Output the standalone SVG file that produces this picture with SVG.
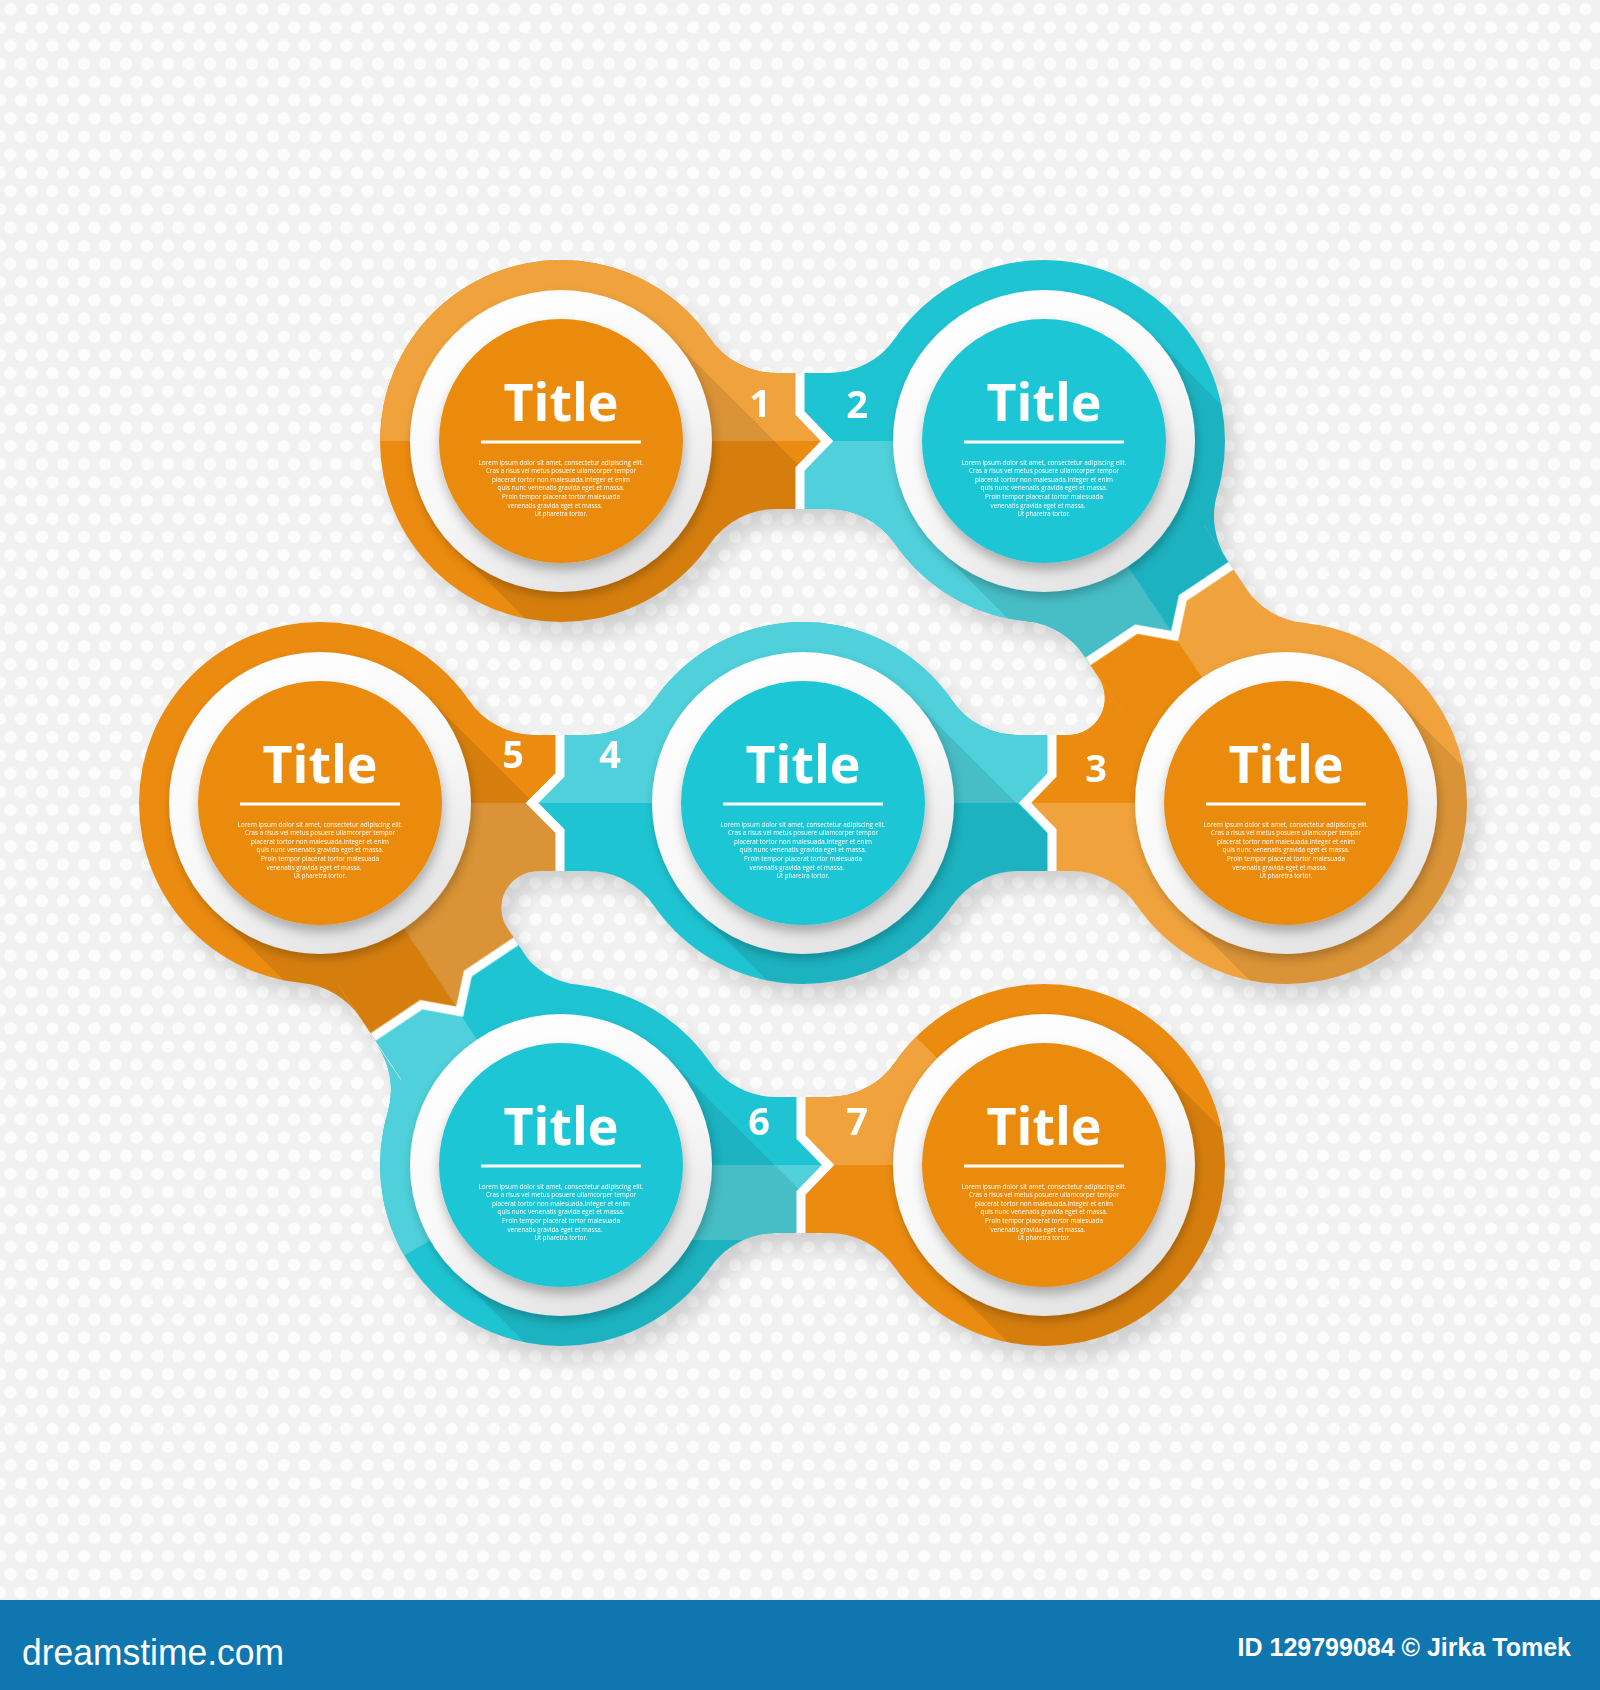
<svg xmlns="http://www.w3.org/2000/svg" width="1600" height="1690" viewBox="0 0 1600 1690">
<defs>
<style>
.ttl{font-family:"Open Sans","Liberation Sans",sans-serif;font-weight:700;font-size:52px;fill:#fff;text-anchor:middle}
.num{font-family:"Open Sans","Liberation Sans",sans-serif;font-weight:700;font-size:38px;fill:#fff;text-anchor:middle}
.lor{font-family:"Open Sans","Liberation Sans",sans-serif;font-size:7px;fill:#fff;text-anchor:middle}
.gap{fill:none;stroke:#fff;stroke-width:9;stroke-linejoin:miter}
.ring{fill:url(#ringG);filter:url(#ringSh)}
.ls{fill:#000;fill-opacity:.09}
.ul{fill:#fff}
</style>
<pattern id="dots" width="21" height="36.4" patternUnits="userSpaceOnUse">
<rect width="21" height="36.4" fill="#F1F1F1"/>
<circle cx="10.5" cy="9.1" r="6.2" fill="#FCFCFC"/>
<circle cx="0" cy="27.3" r="6.2" fill="#FCFCFC"/>
<circle cx="21" cy="27.3" r="6.2" fill="#FCFCFC"/>
</pattern>
<linearGradient id="ringG" x1="0.2" y1="0" x2="0.7" y2="1">
<stop offset="0" stop-color="#FFFFFF"/><stop offset="0.55" stop-color="#F8F8F8"/><stop offset="1" stop-color="#E2E2E2"/>
</linearGradient>
<filter id="ringSh" x="-20%" y="-20%" width="140%" height="140%"><feDropShadow dx="2" dy="5" stdDeviation="5" flood-color="#000" flood-opacity="0.22"/></filter>
<filter id="innerSh" x="-20%" y="-20%" width="140%" height="140%"><feDropShadow dx="1" dy="7" stdDeviation="6" flood-color="#000" flood-opacity="0.28"/></filter>
<filter id="blur" x="-10%" y="-10%" width="120%" height="120%"><feGaussianBlur stdDeviation="10"/></filter>
<path id="fh" d="M98.8 -68 L149.1 -102.6 A80 80 0 0 0 215 -68 Z M98.8 68 L149.1 102.6 A80 80 0 0 1 215 68 Z"/>
<path id="fd" d="M104.4 -86 L139.7 -115.1 A80 80 0 0 0 201.4 -86 Z M104.4 86 L139.7 115.1 A80 80 0 0 1 201.4 86 Z"/>
<polygon id="lsh" points="106.8,-106.8 706.8,493.2 493.2,706.8 -106.8,106.8"/>
<g id="s1">
<circle cx="561" cy="441" r="181"/>
<polygon points="561,373 800,373 800,413 827,441 800,469 800,509 561,509"/>
<use href="#fh" transform="translate(561 441)"/>
</g>
<g id="s2">
<circle cx="1044" cy="441" r="181"/>
<polygon points="800,373 1044,373 1044,509 800,509 800,469 827,441 800,413"/>
<use href="#fh" transform="translate(1044 441) rotate(180)"/>
<g transform="translate(1044 441) rotate(56.2)">
<polygon points="0,-86 207.7,-86 207.7,-28 234.7,0 207.7,28 207.7,86 0,86"/>
<use href="#fd"/>
</g>
</g>
<g id="s3">
<circle cx="1286" cy="803" r="181"/>
<polygon points="1052,735 1286,735 1286,871 1052,871 1052,831 1025,803 1052,775"/>
<use href="#fh" transform="translate(1286 803) rotate(180)"/>
<polygon transform="translate(1044 441) rotate(56.2)" points="207.7,-86 435.4,-86 435.4,86 207.7,86 207.7,28 234.7,0 207.7,-28"/>
<use href="#fd" transform="translate(1286 803) rotate(236.2)"/>
<path d="M1137.2 735 L1067.9 735 A37 37 0 0 0 1098.6 677.4 Z"/>
</g>
<g id="s4">
<circle cx="803" cy="803" r="181"/>
<polygon points="560,735 1052,735 1052,775 1025,803 1052,831 1052,871 560,871 560,831 532,803 560,775"/>
<use href="#fh" transform="translate(803 803)"/>
<use href="#fh" transform="translate(803 803) rotate(180)"/>
</g>
<g id="s5">
<circle cx="320" cy="803" r="181"/>
<polygon points="320,735 560,735 560,775 532,803 560,831 560,871 320,871"/>
<use href="#fh" transform="translate(320 803)"/>
<g transform="translate(320 803) rotate(56.2)">
<polygon points="0,-86 224,-86 224,-28 251,0 224,28 224,86 0,86"/>
<use href="#fd"/>
</g>
<path d="M468.8 871 L538.1 871 A37 37 0 0 0 507.4 928.6 Z"/>
</g>
<g id="s6">
<circle cx="561" cy="1165" r="181"/>
<polygon points="561,1097 801,1097 801,1137 828,1165 801,1193 801,1233 561,1233"/>
<use href="#fh" transform="translate(561 1165)"/>
<polygon transform="translate(320 803) rotate(56.2)" points="224,-86 435.4,-86 435.4,86 224,86 224,28 251,0 224,-28"/>
<use href="#fd" transform="translate(561 1165) rotate(236.2)"/>
</g>
<g id="s7">
<circle cx="1044" cy="1165" r="181"/>
<polygon points="801,1097 1044,1097 1044,1233 801,1233 801,1193 828,1165 801,1137"/>
<use href="#fh" transform="translate(1044 1165) rotate(180)"/>
</g>
<mask id="m1" maskUnits="userSpaceOnUse" x="0" y="0" width="1600" height="1690"><use href="#s1" fill="#fff"/></mask>
<mask id="m2" maskUnits="userSpaceOnUse" x="0" y="0" width="1600" height="1690"><use href="#s2" fill="#fff"/></mask>
<mask id="m3" maskUnits="userSpaceOnUse" x="0" y="0" width="1600" height="1690"><use href="#s3" fill="#fff"/></mask>
<mask id="m4" maskUnits="userSpaceOnUse" x="0" y="0" width="1600" height="1690"><use href="#s4" fill="#fff"/></mask>
<mask id="m5" maskUnits="userSpaceOnUse" x="0" y="0" width="1600" height="1690"><use href="#s5" fill="#fff"/></mask>
<mask id="m6" maskUnits="userSpaceOnUse" x="0" y="0" width="1600" height="1690"><use href="#s6" fill="#fff"/></mask>
<mask id="m7" maskUnits="userSpaceOnUse" x="0" y="0" width="1600" height="1690"><use href="#s7" fill="#fff"/></mask>
</defs>

<rect width="1600" height="1690" fill="url(#dots)"/>

<g id="shapes-shadow" opacity="0.14" filter="url(#blur)" transform="translate(10 14)">
<use href="#s1" fill="#000"/><use href="#s2" fill="#000"/><use href="#s3" fill="#000"/><use href="#s4" fill="#000"/><use href="#s5" fill="#000"/><use href="#s6" fill="#000"/><use href="#s7" fill="#000"/>
</g>

<g id="node1">
<use href="#s1" fill="#EB8B10"/>
<g mask="url(#m1)">
<rect x="370" y="250" width="470" height="191" fill="#F0A23C"/>
<use href="#lsh" x="561" y="441" class="ls"/>
</g>
<circle cx="561" cy="441" r="151" class="ring"/>
<circle cx="561" cy="441" r="122" fill="#EB8B10" filter="url(#innerSh)"/>
<text x="561" y="421" class="ttl">Title</text>
<rect x="481" y="440.5" width="160" height="3" class="ul"/>
<text x="561" y="464.5" class="lor" textLength="165" lengthAdjust="spacingAndGlyphs">Lorem ipsum dolor sit amet, consectetur adipiscing elit.</text>
<text x="561" y="473.1" class="lor" textLength="150" lengthAdjust="spacingAndGlyphs">Cras a risus vel metus posuere ullamcorper tempor</text>
<text x="561" y="481.7" class="lor" textLength="138" lengthAdjust="spacingAndGlyphs">placerat tortor non malesuada.Integer et enim</text>
<text x="561" y="490.3" class="lor" textLength="127" lengthAdjust="spacingAndGlyphs">quis nunc venenatis gravida eget et massa.</text>
<text x="561" y="498.9" class="lor" textLength="118" lengthAdjust="spacingAndGlyphs">Proin tempor placerat tortor malesuada</text>
<text x="555" y="507.5" class="lor" textLength="95" lengthAdjust="spacingAndGlyphs">venenatis gravida eget et massa.</text>
<text x="561" y="516.1" class="lor" textLength="53" lengthAdjust="spacingAndGlyphs">Ut pharetra tortor.</text>
<text x="760" y="417" class="num">1</text>
</g>

<g id="node2">
<use href="#s2" fill="#1FC4D3"/>
<g mask="url(#m2)">
<polygon points="1044,441 1377.6,939.6 444,1041 444,441" fill="#4FD0DA"/>
<use href="#lsh" x="1044" y="441" class="ls"/>
</g>
<circle cx="1044" cy="441" r="151" class="ring"/>
<circle cx="1044" cy="441" r="122" fill="#1FC6D4" filter="url(#innerSh)"/>
<text x="1044" y="421" class="ttl">Title</text>
<rect x="964" y="440.5" width="160" height="3" class="ul"/>
<text x="1044" y="464.5" class="lor" textLength="165" lengthAdjust="spacingAndGlyphs">Lorem ipsum dolor sit amet, consectetur adipiscing elit.</text>
<text x="1044" y="473.1" class="lor" textLength="150" lengthAdjust="spacingAndGlyphs">Cras a risus vel metus posuere ullamcorper tempor</text>
<text x="1044" y="481.7" class="lor" textLength="138" lengthAdjust="spacingAndGlyphs">placerat tortor non malesuada.Integer et enim</text>
<text x="1044" y="490.3" class="lor" textLength="127" lengthAdjust="spacingAndGlyphs">quis nunc venenatis gravida eget et massa.</text>
<text x="1044" y="498.9" class="lor" textLength="118" lengthAdjust="spacingAndGlyphs">Proin tempor placerat tortor malesuada</text>
<text x="1038" y="507.5" class="lor" textLength="95" lengthAdjust="spacingAndGlyphs">venenatis gravida eget et massa.</text>
<text x="1044" y="516.1" class="lor" textLength="53" lengthAdjust="spacingAndGlyphs">Ut pharetra tortor.</text>
<text x="857" y="418" class="num">2</text>
</g>

<g id="node3">
<use href="#s3" fill="#F0A23C"/>
<g mask="url(#m3)">
<polygon points="1286,803 686,803 686,304.4 952.4,304.4" fill="#EB8B10"/>
<use href="#lsh" x="1286" y="803" class="ls"/>
</g>
<circle cx="1286" cy="803" r="151" class="ring"/>
<circle cx="1286" cy="803" r="122" fill="#EB8B10" filter="url(#innerSh)"/>
<text x="1286" y="783" class="ttl">Title</text>
<rect x="1206" y="802.5" width="160" height="3" class="ul"/>
<text x="1286" y="826.5" class="lor" textLength="165" lengthAdjust="spacingAndGlyphs">Lorem ipsum dolor sit amet, consectetur adipiscing elit.</text>
<text x="1286" y="835.1" class="lor" textLength="150" lengthAdjust="spacingAndGlyphs">Cras a risus vel metus posuere ullamcorper tempor</text>
<text x="1286" y="843.7" class="lor" textLength="138" lengthAdjust="spacingAndGlyphs">placerat tortor non malesuada.Integer et enim</text>
<text x="1286" y="852.3" class="lor" textLength="127" lengthAdjust="spacingAndGlyphs">quis nunc venenatis gravida eget et massa.</text>
<text x="1286" y="860.9" class="lor" textLength="118" lengthAdjust="spacingAndGlyphs">Proin tempor placerat tortor malesuada</text>
<text x="1280" y="869.5" class="lor" textLength="95" lengthAdjust="spacingAndGlyphs">venenatis gravida eget et massa.</text>
<text x="1286" y="878.1" class="lor" textLength="53" lengthAdjust="spacingAndGlyphs">Ut pharetra tortor.</text>
<text x="1096" y="782" class="num">3</text>
</g>

<g id="node4">
<use href="#s4" fill="#1FC4D3"/>
<g mask="url(#m4)">
<rect x="520" y="610" width="540" height="193" fill="#4FD0DA"/>
<use href="#lsh" x="803" y="803" class="ls"/>
</g>
<circle cx="803" cy="803" r="151" class="ring"/>
<circle cx="803" cy="803" r="122" fill="#1FC6D4" filter="url(#innerSh)"/>
<text x="803" y="783" class="ttl">Title</text>
<rect x="723" y="802.5" width="160" height="3" class="ul"/>
<text x="803" y="826.5" class="lor" textLength="165" lengthAdjust="spacingAndGlyphs">Lorem ipsum dolor sit amet, consectetur adipiscing elit.</text>
<text x="803" y="835.1" class="lor" textLength="150" lengthAdjust="spacingAndGlyphs">Cras a risus vel metus posuere ullamcorper tempor</text>
<text x="803" y="843.7" class="lor" textLength="138" lengthAdjust="spacingAndGlyphs">placerat tortor non malesuada.Integer et enim</text>
<text x="803" y="852.3" class="lor" textLength="127" lengthAdjust="spacingAndGlyphs">quis nunc venenatis gravida eget et massa.</text>
<text x="803" y="860.9" class="lor" textLength="118" lengthAdjust="spacingAndGlyphs">Proin tempor placerat tortor malesuada</text>
<text x="797" y="869.5" class="lor" textLength="95" lengthAdjust="spacingAndGlyphs">venenatis gravida eget et massa.</text>
<text x="803" y="878.1" class="lor" textLength="53" lengthAdjust="spacingAndGlyphs">Ut pharetra tortor.</text>
<text x="610" y="768" class="num">4</text>
</g>

<g id="node5">
<use href="#s5" fill="#EB8B10"/>
<g mask="url(#m5)">
<polygon points="320,803 920,803 920,1302 653.6,1301.6" fill="#F0A23C"/>
<use href="#lsh" x="320" y="803" class="ls"/>
</g>
<circle cx="320" cy="803" r="151" class="ring"/>
<circle cx="320" cy="803" r="122" fill="#EB8B10" filter="url(#innerSh)"/>
<text x="320" y="783" class="ttl">Title</text>
<rect x="240" y="802.5" width="160" height="3" class="ul"/>
<text x="320" y="826.5" class="lor" textLength="165" lengthAdjust="spacingAndGlyphs">Lorem ipsum dolor sit amet, consectetur adipiscing elit.</text>
<text x="320" y="835.1" class="lor" textLength="150" lengthAdjust="spacingAndGlyphs">Cras a risus vel metus posuere ullamcorper tempor</text>
<text x="320" y="843.7" class="lor" textLength="138" lengthAdjust="spacingAndGlyphs">placerat tortor non malesuada.Integer et enim</text>
<text x="320" y="852.3" class="lor" textLength="127" lengthAdjust="spacingAndGlyphs">quis nunc venenatis gravida eget et massa.</text>
<text x="320" y="860.9" class="lor" textLength="118" lengthAdjust="spacingAndGlyphs">Proin tempor placerat tortor malesuada</text>
<text x="314" y="869.5" class="lor" textLength="95" lengthAdjust="spacingAndGlyphs">venenatis gravida eget et massa.</text>
<text x="320" y="878.1" class="lor" textLength="53" lengthAdjust="spacingAndGlyphs">Ut pharetra tortor.</text>
<text x="513" y="768" class="num">5</text>
</g>

<g id="node6">
<use href="#s6" fill="#1FC4D3"/>
<g mask="url(#m6)">
<polygon points="561,1165 41.4,1465 41.4,666 227.4,666.4" fill="#4FD0DA"/>
<rect x="690" y="1165" width="140" height="75" fill="#4FD0DA"/>
<use href="#lsh" x="561" y="1165" class="ls"/>
</g>
<circle cx="561" cy="1165" r="151" class="ring"/>
<circle cx="561" cy="1165" r="122" fill="#1FC6D4" filter="url(#innerSh)"/>
<text x="561" y="1145" class="ttl">Title</text>
<rect x="481" y="1164.5" width="160" height="3" class="ul"/>
<text x="561" y="1188.5" class="lor" textLength="165" lengthAdjust="spacingAndGlyphs">Lorem ipsum dolor sit amet, consectetur adipiscing elit.</text>
<text x="561" y="1197.1" class="lor" textLength="150" lengthAdjust="spacingAndGlyphs">Cras a risus vel metus posuere ullamcorper tempor</text>
<text x="561" y="1205.7" class="lor" textLength="138" lengthAdjust="spacingAndGlyphs">placerat tortor non malesuada.Integer et enim</text>
<text x="561" y="1214.3" class="lor" textLength="127" lengthAdjust="spacingAndGlyphs">quis nunc venenatis gravida eget et massa.</text>
<text x="561" y="1222.9" class="lor" textLength="118" lengthAdjust="spacingAndGlyphs">Proin tempor placerat tortor malesuada</text>
<text x="555" y="1231.5" class="lor" textLength="95" lengthAdjust="spacingAndGlyphs">venenatis gravida eget et massa.</text>
<text x="561" y="1240.1" class="lor" textLength="53" lengthAdjust="spacingAndGlyphs">Ut pharetra tortor.</text>
<text x="759" y="1135" class="num">6</text>
</g>

<g id="node7">
<use href="#s7" fill="#EB8B10"/>
<g mask="url(#m7)">
<polygon points="1044,1165 444,1165 444,740.8 619.8,740.8" fill="#F0A23C"/>
<use href="#lsh" x="1044" y="1165" class="ls"/>
</g>
<circle cx="1044" cy="1165" r="151" class="ring"/>
<circle cx="1044" cy="1165" r="122" fill="#EB8B10" filter="url(#innerSh)"/>
<text x="1044" y="1145" class="ttl">Title</text>
<rect x="964" y="1164.5" width="160" height="3" class="ul"/>
<text x="1044" y="1188.5" class="lor" textLength="165" lengthAdjust="spacingAndGlyphs">Lorem ipsum dolor sit amet, consectetur adipiscing elit.</text>
<text x="1044" y="1197.1" class="lor" textLength="150" lengthAdjust="spacingAndGlyphs">Cras a risus vel metus posuere ullamcorper tempor</text>
<text x="1044" y="1205.7" class="lor" textLength="138" lengthAdjust="spacingAndGlyphs">placerat tortor non malesuada.Integer et enim</text>
<text x="1044" y="1214.3" class="lor" textLength="127" lengthAdjust="spacingAndGlyphs">quis nunc venenatis gravida eget et massa.</text>
<text x="1044" y="1222.9" class="lor" textLength="118" lengthAdjust="spacingAndGlyphs">Proin tempor placerat tortor malesuada</text>
<text x="1038" y="1231.5" class="lor" textLength="95" lengthAdjust="spacingAndGlyphs">venenatis gravida eget et massa.</text>
<text x="1044" y="1240.1" class="lor" textLength="53" lengthAdjust="spacingAndGlyphs">Ut pharetra tortor.</text>
<text x="857" y="1135" class="num">7</text>
</g>

<g id="connectors">
<polyline class="gap" points="800,373 800,413 827,441 800,469 800,509"/>
<polyline class="gap" points="1052,735 1052,775 1025,803 1052,831 1052,871"/>
<polyline class="gap" points="560,735 560,775 532,803 560,831 560,871"/>
<polyline class="gap" points="801,1097 801,1137 828,1165 801,1193 801,1233"/>
<polyline class="gap" transform="translate(1044 441) rotate(56.2)" points="207.7,-86 207.7,-28 234.7,0 207.7,28 207.7,86"/>
<polyline class="gap" transform="translate(320 803) rotate(56.2)" points="224,-86 224,-28 251,0 224,28 224,86"/>
</g>

<g id="footer">
<rect x="0" y="1600" width="1600" height="90" fill="#0F76AF"/>
<text x="22" y="1665" font-family="'Liberation Sans',Arial,sans-serif" font-size="36" fill="#fff" textLength="262" lengthAdjust="spacingAndGlyphs">dreamstime.com</text>
<text x="1571" y="1656" text-anchor="end" font-family="'Liberation Sans',Arial,sans-serif" font-weight="700" font-size="25" fill="#fff">ID 129799084 © Jirka Tomek</text>
</g>
</svg>
